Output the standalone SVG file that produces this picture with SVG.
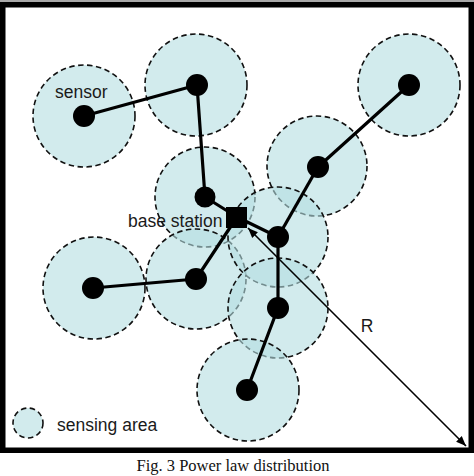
<svg xmlns="http://www.w3.org/2000/svg" width="474" height="476" viewBox="0 0 474 476">
<defs>
<style>
.area{fill:#b4dde1;fill-opacity:0.6;stroke:#111;stroke-width:1.6;stroke-dasharray:5.5 3.5}
.dot{fill:#000}
.link{stroke:#000;stroke-width:3.2;fill:none;stroke-linecap:round}
.lbl{font-family:"Liberation Sans",Arial,sans-serif;font-size:17.5px;fill:#1a1a1a}
</style>
<marker id="ah" viewBox="0 0 10 10" refX="10" refY="5" markerWidth="10" markerHeight="10" markerUnits="userSpaceOnUse" orient="auto-start-reverse">
<path d="M0,1 L10,5 L0,9 Z" fill="#000"/>
</marker>
</defs>
<rect x="0" y="0" width="474" height="476" fill="#fff"/>
<rect x="0" y="0" width="474" height="2.5" fill="#a8a8a8"/>
<g id="areas">
<circle class="area" cx="84" cy="116" r="51"/>
<circle class="area" cx="196" cy="85" r="51"/>
<circle class="area" cx="409" cy="85" r="51"/>
<circle class="area" cx="205" cy="197" r="50"/>
<circle class="area" cx="317" cy="166" r="50"/>
<circle class="area" cx="94" cy="288" r="51"/>
<circle class="area" cx="196" cy="279" r="50"/>
<circle class="area" cx="278" cy="237" r="50"/>
<circle class="area" cx="278" cy="308" r="50"/>
<circle class="area" cx="248" cy="390" r="51"/>
</g>
<g id="connectors">
<line class="link" x1="84" y1="116" x2="197" y2="85"/>
<line class="link" x1="197" y1="85" x2="205" y2="197"/>
<line class="link" x1="205" y1="197" x2="237" y2="217"/>
<line class="link" x1="409" y1="85" x2="318" y2="167"/>
<line class="link" x1="318" y1="167" x2="278" y2="237"/>
<line class="link" x1="278" y1="237" x2="237" y2="217"/>
<line class="link" x1="93" y1="288" x2="196" y2="279"/>
<line class="link" x1="196" y1="279" x2="237" y2="217"/>
<line class="link" x1="278" y1="237" x2="278" y2="308"/>
<line class="link" x1="278" y1="308" x2="247" y2="390"/>
<line x1="248" y1="228" x2="466" y2="446" stroke="#000" stroke-width="1.6" marker-start="url(#ah)" marker-end="url(#ah)"/>
</g>
<g id="sensors">
<circle class="dot" cx="84" cy="116" r="11"/>
<circle class="dot" cx="197" cy="85" r="11"/>
<circle class="dot" cx="409" cy="85" r="11"/>
<circle class="dot" cx="205" cy="197" r="10.5"/>
<circle class="dot" cx="318" cy="167" r="11"/>
<circle class="dot" cx="278" cy="237" r="11"/>
<circle class="dot" cx="93" cy="288" r="11"/>
<circle class="dot" cx="196" cy="279" r="11"/>
<circle class="dot" cx="278" cy="308" r="11"/>
<circle class="dot" cx="247" cy="390" r="11"/>
</g>
<g id="base-station">
<rect x="226" y="207" width="21" height="21" fill="#000"/>
</g>
<g id="labels">
<text class="lbl" x="55" y="98">sensor</text>
<text class="lbl" x="128" y="227">base station</text>
<text class="lbl" x="367" y="332" text-anchor="middle">R</text>
</g>
<g id="legend">
<circle class="area" cx="28" cy="423" r="15"/>
<text class="lbl" x="57" y="431">sensing area</text>
</g>
<rect x="2.75" y="4.75" width="468.5" height="445.5" fill="none" stroke="#000" stroke-width="5.5"/>
<text x="233" y="471" text-anchor="middle" font-family="'Liberation Serif','Times New Roman',serif" font-size="16.5" fill="#111">Fig. 3 Power law distribution</text>
</svg>
